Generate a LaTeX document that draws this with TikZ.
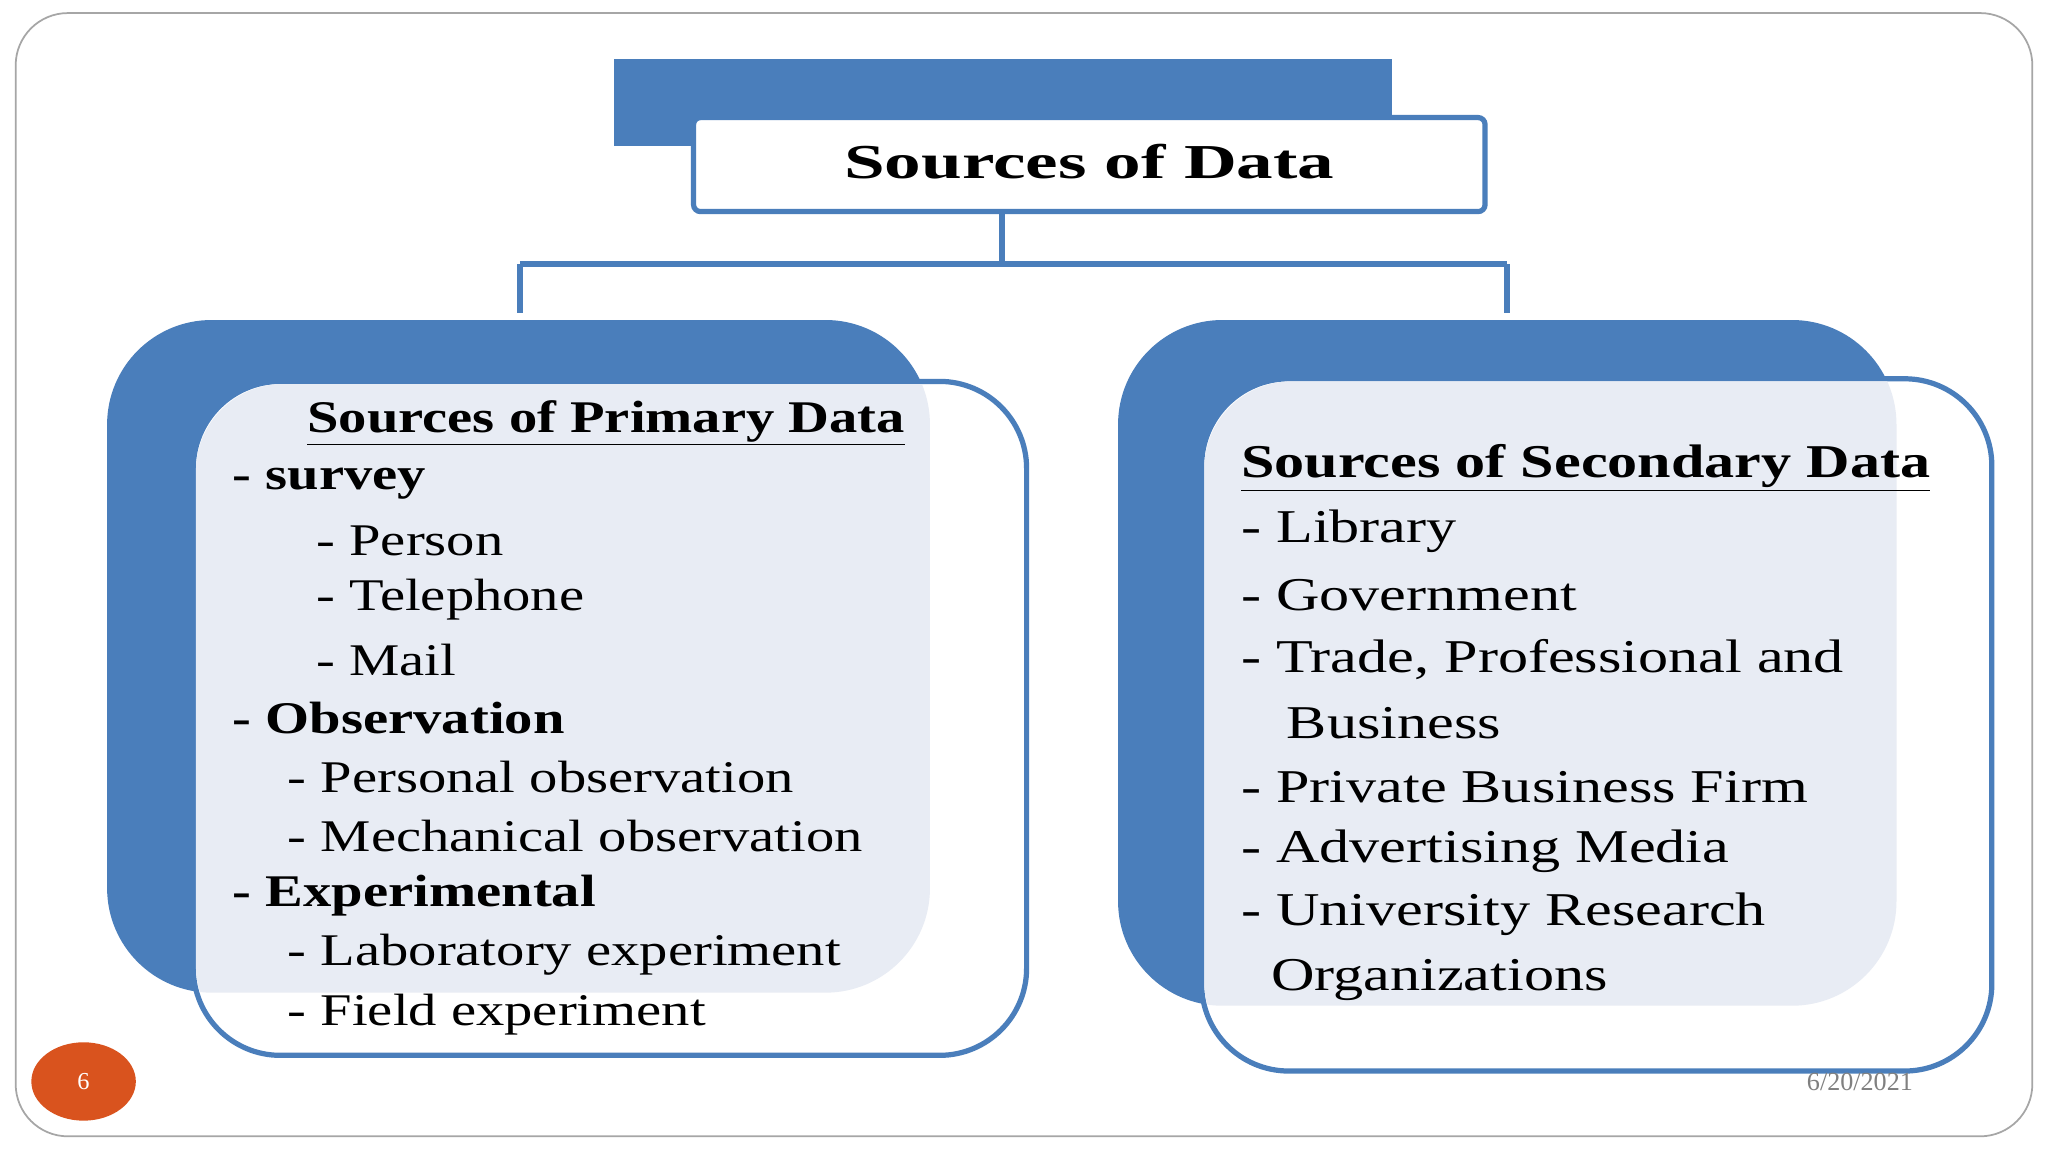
\documentclass[tikz,border=0pt]{standalone}
\usepackage{fontspec}
\setmainfont[FakeStretch=1.25]{Liberation Serif}
\newfontfamily\datefont{Liberation Serif}
\usetikzlibrary{shapes.geometric}
\begin{document}
\begin{tikzpicture}[x=0.75pt,y=-0.75pt,
  item/.style={anchor=west,inner sep=0pt,font=\fontsize{26}{28}\selectfont},
  bitem/.style={item,font=\fontsize{26}{28}\selectfont\bfseries},
  head/.style={anchor=west,inner sep=0pt,font=\fontsize{26}{28}\selectfont\bfseries},
  ritem/.style={anchor=west,inner sep=0pt,font=\fontsize{27}{29}\selectfont\addfontfeature{FakeStretch=1.28}},
  rhead/.style={anchor=west,inner sep=0pt,font=\fontsize{27}{29}\selectfont\bfseries\addfontfeature{FakeStretch=1.28}},
  conn/.style={draw=myblue,line width=3.5pt}]
\definecolor{myblue}{HTML}{4A7EBB}
\definecolor{light}{HTML}{E8ECF4}
\definecolor{pgred}{HTML}{D9531E}
\useasboundingbox (0,0) rectangle (1568,882);
\fill[white] (0,0) rectangle (1568,882);
\draw[gray!70,line width=1pt,rounded corners=30] (12,10) rectangle (1556,870);
% title
\fill[myblue] (470,45) rectangle (1066,112);
\node[draw=myblue,line width=3pt,fill=white,rounded corners=4,minimum width=606*0.75pt,minimum height=72*0.75pt] (title) at (834,126) {};
\node[font=\fontsize{28}{30}\selectfont\bfseries\addfontfeature{FakeStretch=1.5}] (tt) at (834,124) {Sources of Data};
\coordinate (j) at (767,202);
\coordinate (l) at (398,202);
\coordinate (r) at (1154,202);
\draw[conn] (title.south -| j) -- (j);
\draw[conn] (l) -- (r);
\draw[conn] (l) -- (398,240);
\draw[conn] (r) -- (1154,240);
% left
\fill[myblue,rounded corners=60] (82,245) rectangle (712,760);
\draw[myblue,fill=white,line width=3pt,rounded corners=50] (148,292) rectangle (786,808);
\begin{scope}
\clip[rounded corners=60] (82,245) rectangle (712,760);
\fill[light,rounded corners=50] (150,294) rectangle (784,806);
\end{scope}
% right
\fill[myblue,rounded corners=60] (856,245) rectangle (1452,770);
\draw[myblue,fill=white,line width=3pt,rounded corners=50] (920,290) rectangle (1525,820);
\begin{scope}
\clip[rounded corners=60] (856,245) rectangle (1452,770);
\fill[light,rounded corners=50] (922,292) rectangle (1523,818);
\end{scope}
% left texts
\node[head] (lh) at (235,324) {\underline{Sources of Primary Data}};
\node[bitem] (l1) at (178,370) {- survey};
\node[item] (l2) at (242,414) {- Person};
\node[item] (l3) at (242,459) {- Telephone};
\node[item] (l4) at (242,505) {- Mail};
\node[bitem] (l5) at (178,550) {- Observation};
\node[item] (l6) at (220,595) {- Personal observation};
\node[item] (l7) at (220,640) {- Mechanical observation};
\node[bitem] (l8) at (178,686) {- Experimental};
\node[item] (l9) at (220,731) {- Laboratory experiment};
\node[item] (l10) at (220,777) {- Field experiment};
% right texts
\node[rhead] (rh) at (950,358) {\underline{Sources of Secondary Data}};
\node[ritem] (r1) at (950,407) {- Library};
\node[ritem] (r2) at (950,456) {- Government};
\node[ritem] (r3) at (950,505) {- Trade, Professional and};
\node[ritem] (r4) at (985,554) {Business};
\node[ritem] (r5) at (950,603) {- Private Business Firm};
\node[ritem] (r6) at (950,652) {- Advertising Media};
\node[ritem] (r7) at (950,700) {- University Research};
\node[ritem] (r8) at (973,750) {Organizations};
% footer
\node[ellipse,fill=pgred,minimum width=80*0.75pt,minimum height=60*0.75pt,inner sep=0pt,text=white,font=\datefont\fontsize{14}{16}\selectfont] (pg) at (64,828) {6};
\node[text=gray,font=\datefont\fontsize{15}{16}\selectfont] (date) at (1424,828) {6/20/2021};
\end{tikzpicture}
\end{document}
